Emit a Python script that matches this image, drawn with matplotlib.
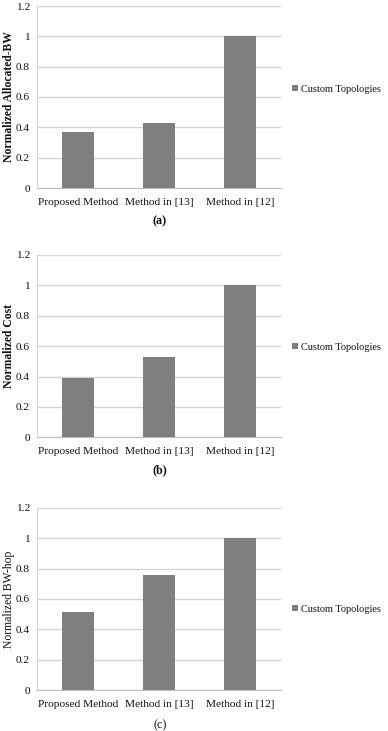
import matplotlib
matplotlib.use("Agg")
import matplotlib.pyplot as plt
import numpy as np

categories = ["Proposed Method", "Method in [13]", "Method in [12]"]
alloc_bw = [0.37, 0.427, 1.0]
cost = [0.388, 0.527, 1.0]
bw_hop = [0.517, 0.755, 1.0]
series_name = "Custom Topologies"
yticks = [0, 0.2, 0.4, 0.6, 0.8, 1, 1.2]
ytick_labels = ["0", "0.2", "0.4", "0.6", "0.8", "1", "1.2"]

panels = [
    (alloc_bw, "Normalized Allocated-BW", "bold", "(a)", "bold"),
    (cost, "Normalized Cost", "bold", "(b)", "bold"),
    (bw_hop, "Normalized BW-hop", "normal", "(c)", "normal"),
]

W, H = 388, 731
fig = plt.figure(figsize=(W / 100, H / 100), dpi=100)
plt.rcParams['font.family'] = ['Liberation Serif', 'DejaVu Serif']

# (top_px, bottom_px) of each axes, subfigure label y px, legend y px
geo = [(6, 188, 221, 89), (255, 437.3, 470, 347), (507.7, 690.3, 725, 609)]
left_px, right_px = 37, 281
tc = "#111111"

for (vals, ylab, ylw, sub, subw), (t, b, suby, legy) in zip(panels, geo):
    ax = fig.add_axes([left_px / W, 1 - b / H, (right_px - left_px) / W, (b - t) / H])
    x = np.arange(len(categories))
    ax.bar(x, vals, width=0.39, color="#7f7f7f", zorder=3, label=series_name)
    ax.set_xlim(-0.5, 2.5)
    ax.set_ylim(0, 1.2)
    ax.set_yticks(yticks)
    ax.set_yticklabels(ytick_labels)
    ax.set_xticks(x)
    ax.set_xticklabels(categories)
    ax.yaxis.grid(True, color="#d4d4d4", linewidth=1.0, zorder=0)
    ax.set_axisbelow(True)
    for s in ["top", "right"]:
        ax.spines[s].set_visible(False)
    ax.spines["left"].set_color("#d4d4d4")
    ax.spines["bottom"].set_color("#bfbfbf")
    ax.tick_params(axis="both", length=0, labelsize=8.2, colors=tc)
    ax.tick_params(axis="y", pad=5)
    ax.tick_params(axis="x", pad=7)
    ax.set_ylabel(ylab, fontsize=8.4, fontweight=ylw, color=tc)
    ax.yaxis.set_label_coords((15 - left_px) / (right_px - left_px), 0.5)
    fig.text(160 / W, 1 - suby / H, sub, ha="center", va="center",
             fontsize=8.7, fontweight=subw, color=tc)
    ax.legend(loc="center left", bbox_to_anchor=((287 - left_px) / (right_px - left_px),
              (b - legy) / (b - t)), frameon=False, fontsize=7.4,
              handlelength=0.55, handleheight=0.55, handletextpad=0.3,
              borderpad=0, labelcolor=tc)

fig.savefig("out.png", dpi=100)
